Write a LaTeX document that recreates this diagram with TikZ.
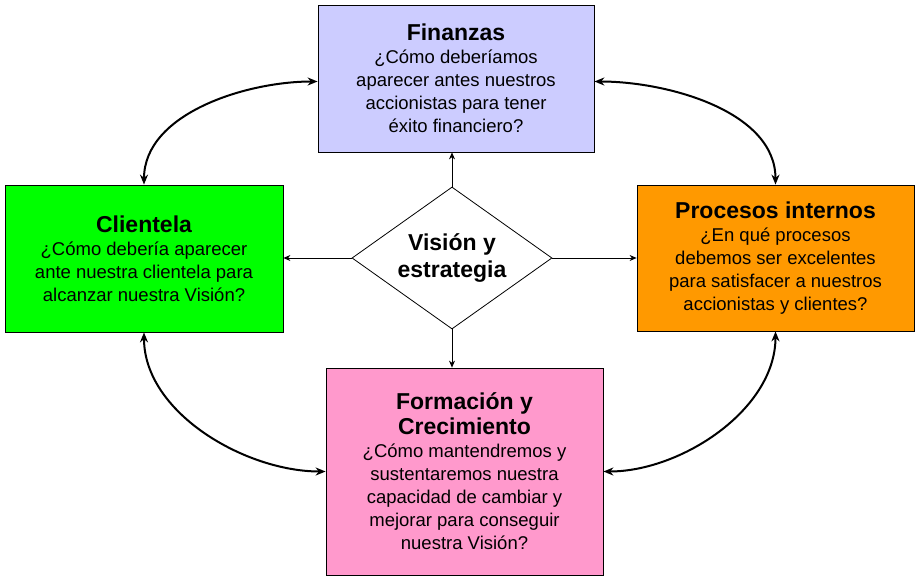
\documentclass[tikz,border=0pt]{standalone}
\usepackage{fontspec}
\setmainfont{Liberation Sans}
\usetikzlibrary{shapes.geometric,arrows.meta}
\definecolor{lav}{RGB}{204,204,255}
\definecolor{grn}{RGB}{0,255,0}
\definecolor{org}{RGB}{255,153,0}
\definecolor{pnk}{RGB}{255,153,204}
\newcommand{\ttlfont}{\fontsize{23}{27}\selectfont\bfseries}
\begin{document}
\begin{tikzpicture}[x=1pt,y=-1pt,
  box/.style={draw,line width=0.8pt,align=center,inner sep=0pt,font=\fontsize{18.5}{23}\selectfont},
  thin/.style={-{Stealth[length=7pt,width=6pt]},line width=0.7pt},
  dbl/.style={{Stealth[length=10pt,width=8pt]}-{Stealth[length=10pt,width=8pt]},line width=2pt}]
\useasboundingbox (0,0) rectangle (922,586);
\node[box,fill=lav,minimum width=276pt,minimum height=147pt] (fin) at (456,78.5)
  {{\ttlfont Finanzas}\\ ¿Cómo deberíamos\\ aparecer antes nuestros\\ accionistas para tener\\ éxito financiero?};
\node[box,fill=grn,minimum width=278pt,minimum height=147pt] (cli) at (144,258.5)
  {{\ttlfont Clientela}\\ ¿Cómo debería aparecer\\ ante nuestra clientela para\\ alcanzar nuestra Visión?};
\node[box,fill=org,minimum width=277pt,minimum height=146pt] (pro) at (775.5,258)
  {{\ttlfont Procesos internos}\\ ¿En qué procesos\\ debemos ser excelentes\\ para satisfacer a nuestros\\ accionistas y clientes?};
\node[box,fill=pnk,minimum width=277pt,minimum height=207pt] (for) at (464.5,471.5)
  {{\ttlfont Formación y}\\[2pt] {\ttlfont Crecimiento}\\ ¿Cómo mantendremos y\\ sustentaremos nuestra\\ capacidad de cambiar y\\ mejorar para conseguir\\ nuestra Visión?};
\node[diamond,draw,fill=white,line width=0.8pt,minimum width=200pt,minimum height=142pt,inner sep=0pt,align=center,aspect=1.4,font=\ttlfont] (vis) at (452,258)
  {Visión y\\ estrategia};
\draw[thin] (vis.north) -- (vis.north |- fin.south);
\draw[thin] (vis.south) -- (vis.south |- for.north);
\draw[thin] (vis.west) -- (cli.east |- vis.west);
\draw[thin] (vis.east) -- (pro.west |- vis.east);
\draw[dbl] ([yshift=-3pt]fin.west) to[out=180,in=90,looseness=0.9] (cli.north);
\draw[dbl] ([yshift=-3pt]fin.east) to[out=0,in=90,looseness=0.9] (pro.north);
\draw[dbl] (cli.south) to[out=-90,in=180,looseness=0.9] (for.west);
\draw[dbl] (pro.south) to[out=-90,in=0,looseness=0.9] (for.east);
\end{tikzpicture}
\end{document}
